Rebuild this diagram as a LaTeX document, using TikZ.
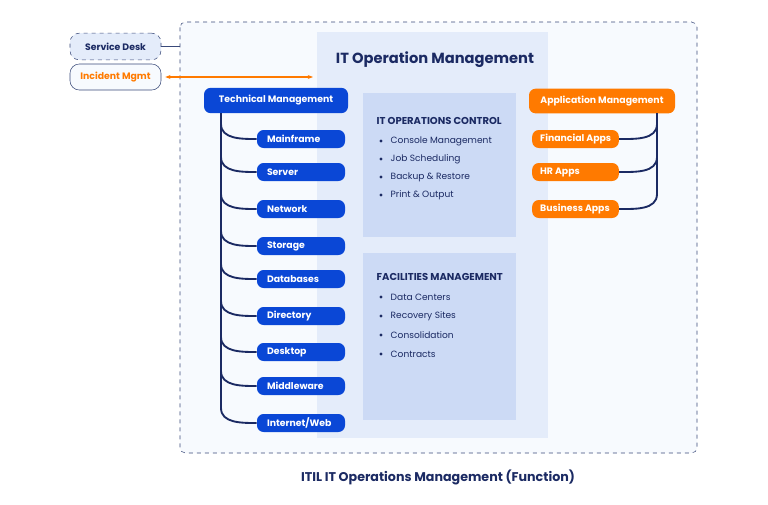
\documentclass[tikz,border=0pt]{standalone}
\usepackage{fontspec}
\setmainfont{Poppins}
\usetikzlibrary{arrows.meta}
\definecolor{navy}{HTML}{1B2A63}
\definecolor{tblue}{HTML}{0A47D6}
\definecolor{orng}{HTML}{FF7A00}
\definecolor{panel}{HTML}{E4ECFA}
\definecolor{sub}{HTML}{CCDAF5}
\definecolor{outerbg}{HTML}{F7FAFE}
\definecolor{dline}{HTML}{3A4A7A}
\begin{document}
\begin{tikzpicture}[x=0.75pt,y=-0.75pt,
 tech/.style={rounded corners=5pt,fill=tblue,text=white,font=\fontsize{7}{8}\selectfont\bfseries,inner sep=0pt},
 app/.style={rounded corners=5pt,fill=orng,text=white,font=\fontsize{7}{8}\selectfont\bfseries,inner sep=0pt},
 tree/.style={draw=navy,line width=1.4pt},
 item/.style={anchor=west,text=navy,font=\fontsize{6.8}{8}\selectfont},
 head/.style={anchor=west,text=navy,font=\fontsize{7.5}{9}\selectfont\bfseries}]
\useasboundingbox (0,0) rectangle (768,504);
\fill[white] (0,0) rectangle (768,504);
\draw[dline,dashed,fill=outerbg,rounded corners=4pt] (180,22) rectangle (697,453);
\fill[panel] (317,32) rectangle (548,438);
\node[text=navy,font=\fontsize{11}{13}\selectfont\bfseries] (title) at (435,60) {IT Operation Management};
\fill[sub] (363,93) rectangle (516,237);
\fill[sub] (363,253) rectangle (516,420);
\node[head] (h1) at (372,121) {IT OPERATIONS CONTROL};
\node[head] (h2) at (372,277) {FACILITIES MANAGEMENT};
\foreach \t/\y in {Console Management/141,Job Scheduling/159,Backup \& Restore/177,Print \& Output/195,Data Centers/297,Recovery Sites/316,Consolidation/335,Contracts/354}{
 \fill[navy] (381,\y) circle (1.3pt);
 \node[item] at (386,\y) {\t};}
\node[draw=dline,dashed,fill=panel,rounded corners=7pt,minimum width=68.25pt,minimum height=20pt,text=navy,font=\fontsize{7}{8}\selectfont\bfseries] (sd) at (115.5,46.5) {Service Desk};
\node[draw=dline,fill=outerbg,rounded corners=7pt,minimum width=68.25pt,minimum height=19.5pt,text=orng,font=\fontsize{7}{8}\selectfont\bfseries] (im) at (115.5,77) {Incident Mgmt};
\coordinate (sdend) at (180,46.5);
\draw[dline,line width=0.8pt] (sd.east) -- (sdend);
\coordinate (arrend) at (313,77);
\draw[orng,line width=0.8pt,{Stealth[length=4pt]}-{Stealth[length=4pt]}] ([xshift=3pt]im.east) -- (arrend);
\node[tech,minimum width=108pt,minimum height=19pt] (tm) at (276,100.5) {Technical Management};
\coordinate (t0) at (221,113);
\coordinate (t1) at (221,409);
\draw[tree] (t0) -- (t1);
\foreach \n/\t/\y in {c1/Mainframe/139,c2/Server/172,c3/Network/209,c4/Storage/246,c5/Databases/279,c6/Directory/316,c7/Desktop/352,c8/Middleware/386,c9/Internet\slash Web/423}{
 \node[tech,inner xsep=7.5pt,minimum height=13.5pt] (\n) at (301,\y) {\makebox[51pt][l]{\t}};
 \draw[tree] (221,\y-15) to[out=-90,in=180] (\n.west);}
\node[app,minimum width=109.5pt,minimum height=18.5pt] (am) at (602,101) {Application Management};
\coordinate (a0) at (657,113);
\coordinate (a1) at (657,195);
\draw[tree] (a0) -- (a1);
\foreach \n/\t/\y in {d1/Financial Apps/139,d2/HR Apps/172,d3/Business Apps/209}{
 \node[app,inner xsep=6pt,minimum height=13.5pt] (\n) at (575.5,\y) {\makebox[53pt][l]{\t}};
 \draw[tree] (657,\y-15) to[out=-90,in=0] (\n.east);}
\node[text=navy,font=\fontsize{9.5}{11}\selectfont\bfseries] (cap) at (438,477) {ITIL IT Operations Management (Function)};
\end{tikzpicture}
\end{document}
